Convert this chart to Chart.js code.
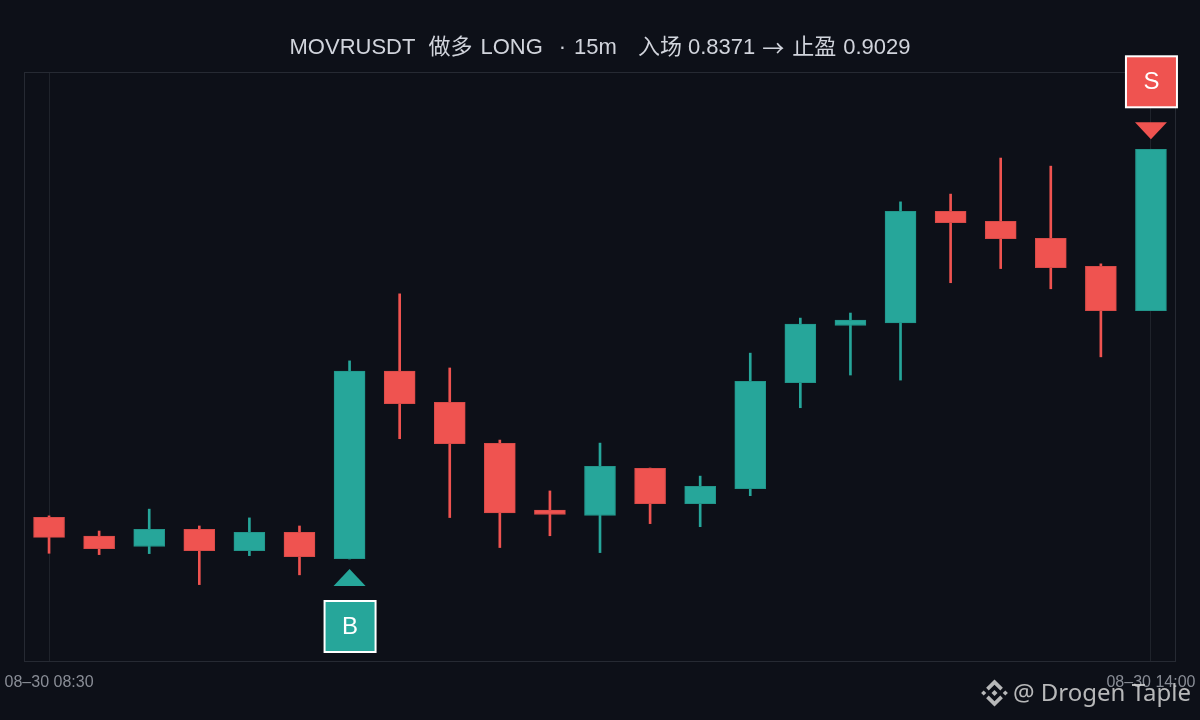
<!DOCTYPE html>
<html>
<head>
<meta charset="utf-8">
<script src="https://cdn.jsdelivr.net/npm/chart.js@4.4.1/dist/chart.umd.min.js"></script>
<style>
  html, body { margin: 0; padding: 0; background: #0d1018; }
  #wrap { width: 1200px; height: 720px; position: relative; }
</style>
</head>
<body>
<div id="wrap"><canvas id="kline" width="1200" height="720"></canvas></div>
<script>
// 15m candles, 08-30 08:30 .. 14:00
const times = ['08:30', '08:45', '09:00', '09:15', '09:30', '09:45', '10:00', '10:15',
  '10:30', '10:45', '11:00', '11:15', '11:30', '11:45', '12:00', '12:15', '12:30',
  '12:45', '13:00', '13:15', '13:30', '13:45', '14:00'];
const opens  = [0.7937, 0.7881, 0.7850, 0.7901, 0.7838, 0.7892, 0.7814, 0.8371, 0.8278, 0.8156, 0.7958, 0.7942,
  0.8082, 0.7977, 0.8022, 0.8336, 0.8506, 0.8514, 0.8845, 0.8815, 0.8765, 0.8682, 0.8550];
const highs  = [0.7941, 0.7896, 0.7961, 0.7911, 0.7935, 0.7911, 0.8401, 0.8600, 0.8380, 0.8166, 0.8015, 0.8157,
  0.8083, 0.8059, 0.8424, 0.8528, 0.8543, 0.8873, 0.8896, 0.9003, 0.8979, 0.8689, 0.9029];
const lows   = [0.7830, 0.7826, 0.7829, 0.7737, 0.7823, 0.7766, 0.7813, 0.8170, 0.7936, 0.7847, 0.7882, 0.7832,
  0.7918, 0.7909, 0.8001, 0.8262, 0.8359, 0.8344, 0.8633, 0.8675, 0.8615, 0.8413, 0.8550];
const closes = [0.7877, 0.7844, 0.7901, 0.7838, 0.7892, 0.7820, 0.8371, 0.8274, 0.8155, 0.7950, 0.7945, 0.8088,
  0.7977, 0.8029, 0.8340, 0.8510, 0.8522, 0.8845, 0.8811, 0.8764, 0.8678, 0.8550, 0.9029];

const symbol = 'MOVRUSDT';
const entryPrice = 0.8371;
const exitPrice = 0.9029;
const buyIndex = 6;
const sellIndex = 22;

const UP = '#26a69a', DOWN = '#ef5350';
const UP_EDGE = '#22968b', DOWN_EDGE = '#d94b48';
const BG = '#0d1018';

const isUp = opens.map((o, i) => closes[i] >= o);
const fillCol = isUp.map(u => u ? UP : DOWN);
const edgeCol = isUp.map(u => u ? UP_EDGE : DOWN_EDGE);

// title pieces, the gap before each one, and an optional font
const LATIN = '22px "Liberation Sans", "Noto Sans CJK SC", sans-serif';
const CJK = '22px "Noto Sans CJK SC", sans-serif';
const titleParts = [
  [symbol, 0], ['做多', 13], ['LONG', 8], ['·', 16], ['15m', 8],
  ['入场', 21], [entryPrice.toFixed(4), 6], ['→', 7, CJK], ['止盈', 8], [exitPrice.toFixed(4), 7]
];

const bgPlugin = {
  id: 'bg',
  beforeDraw(chart) {
    const ctx = chart.ctx;
    ctx.save();
    ctx.fillStyle = BG;
    ctx.fillRect(0, 0, chart.width, chart.height);
    ctx.restore();
  }
};

function drawBinanceLogo(ctx, cx, cy, r) {
  const poly = pts => {
    ctx.beginPath();
    pts.forEach((p, k) => k ? ctx.lineTo(cx + p[0] * r, cy + p[1] * r) : ctx.moveTo(cx + p[0] * r, cy + p[1] * r));
    ctx.closePath();
    ctx.fill();
  };
  const diamond = (x, y, d) => poly([[x, y - d], [x + d, y], [x, y + d], [x - d, y]]);
  diamond(0, 0, 0.22);
  diamond(-0.8, 0, 0.19);
  diamond(0.8, 0, 0.19);
  poly([[0, -1], [0.62, -0.38], [0.43, -0.19], [0, -0.62], [-0.43, -0.19], [-0.62, -0.38]]);
  poly([[0, 1], [0.62, 0.38], [0.43, 0.19], [0, 0.62], [-0.43, 0.19], [-0.62, 0.38]]);
}

function drawTitle(ctx) {
  ctx.textBaseline = 'middle';
  ctx.textAlign = 'left';
  ctx.fillStyle = '#d1d4dc';
  const widths = titleParts.map(p => { ctx.font = p[2] || LATIN; return ctx.measureText(p[0]).width; });
  const total = widths.reduce((a, w, i) => a + w + titleParts[i][1], 0);
  let x = 600 - total / 2;
  titleParts.forEach((p, i) => {
    x += p[1];
    ctx.font = p[2] || LATIN;
    ctx.fillText(p[0], x, 48);
    x += widths[i];
  });
}

const decoPlugin = {
  id: 'deco',
  afterDraw(chart) {
    const ctx = chart.ctx;
    const area = chart.chartArea;
    const xs = chart.scales.x, ys = chart.scales.y;
    ctx.save();

    // plot frame
    ctx.strokeStyle = '#262a33';
    ctx.lineWidth = 1;
    ctx.strokeRect(area.left + 0.5, area.top + 0.5, area.right - area.left - 1, area.bottom - area.top - 1);

    drawTitle(ctx);
    ctx.textAlign = 'center';

    // buy marker
    let x = xs.getPixelForValue(buyIndex);
    let y = ys.getPixelForValue(lows[buyIndex]);
    ctx.fillStyle = UP;
    ctx.beginPath();
    ctx.moveTo(x, y + 10);
    ctx.lineTo(x + 16, y + 27);
    ctx.lineTo(x - 16, y + 27);
    ctx.closePath();
    ctx.fill();
    ctx.fillRect(x - 25, y + 42, 51, 51);
    ctx.strokeStyle = '#ffffff';
    ctx.lineWidth = 2;
    ctx.strokeRect(x - 25, y + 42, 51, 51);
    ctx.fillStyle = '#ffffff';
    ctx.font = '24px "Liberation Sans", sans-serif';
    ctx.fillText('B', x + 0.5, y + 68);

    // sell marker
    x = xs.getPixelForValue(sellIndex);
    y = ys.getPixelForValue(highs[sellIndex]);
    ctx.fillStyle = DOWN;
    ctx.beginPath();
    ctx.moveTo(x, y - 10);
    ctx.lineTo(x + 16, y - 27);
    ctx.lineTo(x - 16, y - 27);
    ctx.closePath();
    ctx.fill();
    ctx.fillRect(x - 25, y - 93, 51, 51);
    ctx.strokeStyle = '#ffffff';
    ctx.strokeRect(x - 25, y - 93, 51, 51);
    ctx.fillStyle = '#ffffff';
    ctx.fillText('S', x + 0.5, y - 67);

    // watermark
    ctx.globalAlpha = 0.85;
    ctx.fillStyle = '#d6d6d6';
    drawBinanceLogo(ctx, 994.5, 693, 13.5);
    ctx.font = '24px "Noto Sans", sans-serif';
    ctx.textAlign = 'left';
    ctx.fillText('@ Drogen Taple', 1013, 694);
    ctx.restore();
  }
};

new Chart(document.getElementById('kline').getContext('2d'), {
  type: 'bar',
  data: {
    labels: times,
    datasets: [
      {
        label: 'body',
        data: opens.map((o, i) => [o, closes[i]]),
        backgroundColor: fillCol,
        borderColor: edgeCol,
        borderWidth: 1,
        borderSkipped: false,
        barThickness: 31,
        grouped: false
      },
      {
        label: 'wick',
        data: lows.map((l, i) => [l, highs[i]]),
        backgroundColor: fillCol,
        borderWidth: 0,
        barThickness: 2,
        grouped: false
      }
    ]
  },
  options: {
    responsive: false,
    animation: false,
    layout: { padding: { top: 72, left: 24, right: 24, bottom: 0 } },
    plugins: { legend: { display: false }, tooltip: { enabled: false }, title: { display: false } },
    scales: {
      x: {
        offset: true,
        afterFit(scale) {
          scale.height = 58;
          // edge labels may hang past the plot, don't let them shrink it
          scale.paddingLeft = 0;
          scale.paddingRight = 0;
        },
        grid: {
          offset: false,
          drawTicks: false,
          color: ctx => (ctx.index === 0 || ctx.index === times.length - 1) ? '#1f232b' : 'rgba(0,0,0,0)'
        },
        border: { display: false },
        ticks: {
          autoSkip: false,
          maxRotation: 0,
          padding: 11,
          color: '#898d96',
          font: { family: 'Liberation Sans', size: 16 },
          callback: (v, i) => (i === 0 || i === times.length - 1) ? '08–30 ' + times[i] : ''
        }
      },
      y: {
        display: false,
        min: 0.75073,
        max: 0.92584
      }
    }
  },
  plugins: [bgPlugin, decoPlugin]
});
</script>
</body>
</html>
